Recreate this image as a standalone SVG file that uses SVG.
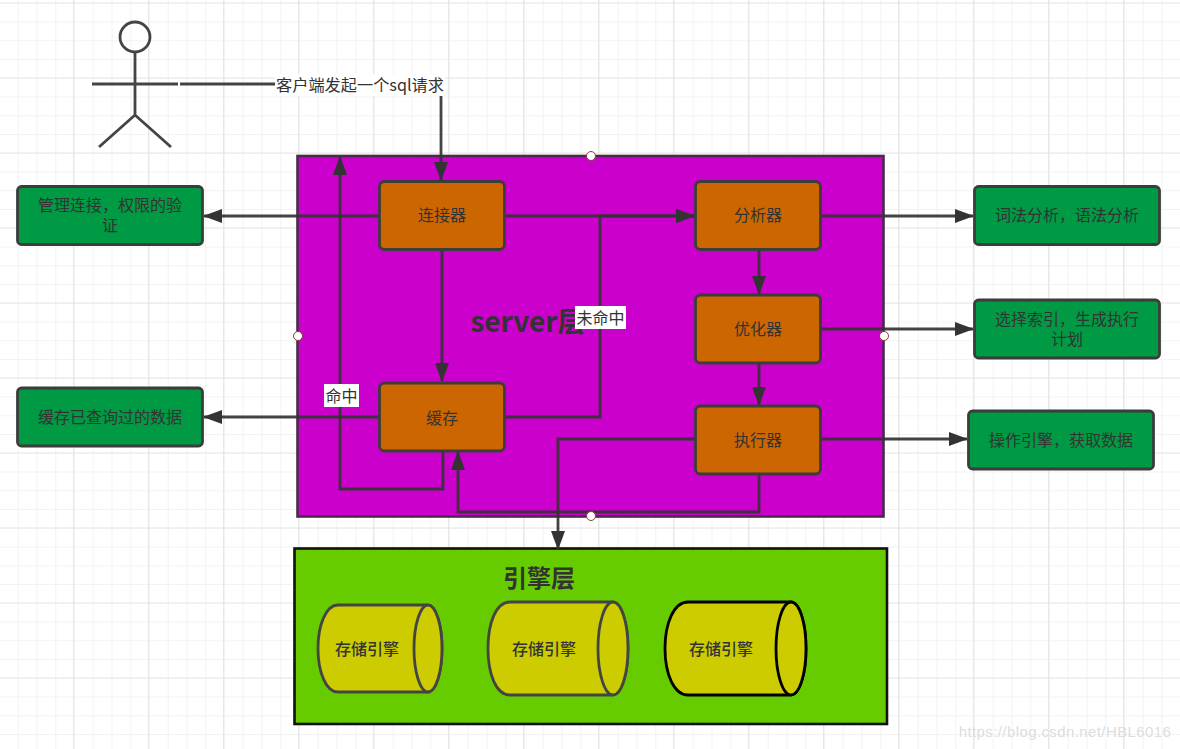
<svg xmlns="http://www.w3.org/2000/svg" width="1180" height="749" viewBox="0 0 1180 749">
<defs>
<pattern id="minor" width="18.75" height="18.75" patternUnits="userSpaceOnUse" x="-1" y="-16">
<path d="M0 0H18.75M0 0V18.75" fill="none" stroke="#f0f0f0" stroke-width="1.6"/>
</pattern>
<pattern id="major" width="75" height="75" patternUnits="userSpaceOnUse" x="-2" y="2.5">
<path d="M0 0H75M0 0V75" fill="none" stroke="#e2e2e2" stroke-width="1.6"/>
</pattern>
<marker id="arr" viewBox="0 0 19 14" refX="18" refY="7" markerWidth="19" markerHeight="14" markerUnits="userSpaceOnUse" orient="auto">
<path d="M0 0L19 7L0 14Z" fill="#333"/>
</marker>
</defs>
<style>
text{font-family:"Noto Sans CJK SC","Liberation Sans",sans-serif;fill:#333;text-anchor:middle}
.ln{fill:none;stroke:#333;stroke-width:2.800;stroke-opacity:.92}
.arr{marker-end:url(#arr)}
.box{fill:#c60;stroke:#3c3c3c;stroke-width:2.800}
.note{fill:#094;stroke:#3c3c3c;stroke-width:2.800}
.t{font-size:16px}
.lbl{fill:#fff}
.cyl{fill:#cc0;stroke:#444;stroke-width:2.800}
.cb{stroke:#000}
.dot{fill:#fff;stroke:#8a3a3a;stroke-width:1}
</style>
<rect width="1180" height="749" fill="#fff"/>
<rect width="1180" height="749" fill="url(#minor)"/>
<rect width="1180" height="749" fill="url(#major)"/>

<g id="actor" fill="none" stroke="#444" stroke-width="2.800">
<circle cx="135" cy="37" r="15"/>
<path d="M135 52V115M92 84H178M135 115L99 147M135 115L171 147"/>
</g>

<g id="server-layer">
<rect x="297.500" y="156" width="586" height="360.500" fill="#c0c" stroke="#4a2a4a" stroke-width="2.600"/>
<text x="528" y="332" font-size="28" font-weight="700">server层</text>
</g>

<g id="engine-layer">
<rect x="294.500" y="548.500" width="592.500" height="175.500" fill="#6c0" stroke="#111" stroke-width="2.600"/>
<text x="539" y="587" font-size="24" font-weight="700">引擎层</text>
</g>

<g id="connectors">
<path class="ln" d="M180 84H441"/>
<path class="ln arr" d="M441 95V180"/>
<path class="ln arr" d="M379 216H204"/>
<path class="ln arr" d="M505 216H694"/>
<path class="ln arr" d="M442 250V381"/>
<path class="ln arr" d="M379 417H204"/>
<path class="ln arr" d="M505 417H600V216H694"/>
<path class="ln arr" d="M443 452V489H340V157"/>
<path class="ln arr" d="M759 474V512H458V452"/>
<path class="ln arr" d="M695 439H558V549"/>
<path class="ln arr" d="M759 250V294"/>
<path class="ln arr" d="M759 363V405"/>
<path class="ln arr" d="M821 216H973"/>
<path class="ln arr" d="M821 329H973"/>
<path class="ln arr" d="M821 439H967"/>
</g>

<g id="label-request">
<rect x="275" y="74" width="170" height="22" class="lbl"/>
<text x="360" y="91" font-size="16.200">客户端发起一个sql请求</text>
</g>
<g id="label-miss">
<rect x="575" y="306" width="51" height="23" class="lbl"/>
<text x="600.500" y="324" font-size="16">未命中</text>
</g>
<g id="label-hit">
<rect x="324" y="384" width="35" height="23" class="lbl"/>
<text x="341.500" y="402" font-size="16">命中</text>
</g>

<g id="connector-node"><rect class="box" x="379.500" y="181.500" width="125" height="68" rx="5"/><text class="t" x="442" y="221">连接器</text></g>
<g id="analyzer-node"><rect class="box" x="695.500" y="181.500" width="125" height="68" rx="5"/><text class="t" x="758" y="221">分析器</text></g>
<g id="optimizer-node"><rect class="box" x="695.500" y="295" width="125" height="68" rx="5"/><text class="t" x="758" y="335">优化器</text></g>
<g id="executor-node"><rect class="box" x="695.500" y="406" width="125" height="68" rx="5"/><text class="t" x="758" y="446">执行器</text></g>
<g id="cache-node"><rect class="box" x="379.500" y="383" width="125" height="68" rx="5"/><text class="t" x="442" y="424">缓存</text></g>

<g id="note-connect"><rect class="note" x="17.500" y="186.500" width="185" height="58" rx="4"/><text class="t" x="110" y="211">管理连接，权限的验</text><text class="t" x="110" y="231">证</text></g>
<g id="note-cache"><rect class="note" x="17.500" y="388" width="185" height="58" rx="4"/><text class="t" x="110" y="423">缓存已查询过的数据</text></g>
<g id="note-analyze"><rect class="note" x="974.500" y="186.500" width="185" height="58" rx="4"/><text class="t" x="1067" y="221">词法分析，语法分析</text></g>
<g id="note-optimize"><rect class="note" x="974.500" y="300" width="185" height="58" rx="4"/><text class="t" x="1067" y="325">选择索引，生成执行</text><text class="t" x="1067" y="345">计划</text></g>
<g id="note-execute"><rect class="note" x="968.500" y="411" width="185" height="58" rx="4"/><text class="t" x="1061" y="446">操作引擎，获取数据</text></g>

<g id="cylinder-1">
<path class="cyl" d="M338 605H427C436 605 442 625 442 648.500S436 692 427 692H338C326 692 318 672 318 648.500S326 605 338 605Z"/>
<ellipse class="cyl" cx="428" cy="648.500" rx="14" ry="43.500"/>
<text class="t" x="367" y="655" font-weight="500">存储引擎</text>
</g>
<g id="cylinder-2">
<path class="cyl" d="M510 602H612C622 602 628 624 628 648.500S622 695 612 695H510C496 695 488 674 488 648.500S496 602 510 602Z"/>
<ellipse class="cyl" cx="613" cy="648.500" rx="15" ry="46.500"/>
<text class="t" x="544" y="655" font-weight="500">存储引擎</text>
</g>
<g id="cylinder-3">
<path class="cyl cb" d="M688 602H790C800 602 806 624 806 648.500S800 695 790 695H688C674 695 665 674 665 648.500S674 602 688 602Z"/>
<ellipse class="cyl cb" cx="791" cy="648.500" rx="15" ry="46.500"/>
<text class="t" x="721" y="655" font-weight="500">存储引擎</text>
</g>

<g id="handles">
<circle class="dot" cx="591" cy="156" r="4.500"/>
<circle class="dot" cx="298" cy="336" r="4.500"/>
<circle class="dot" cx="884" cy="336" r="4.500"/>
<circle class="dot" cx="591" cy="516" r="4.500"/>
</g>
<text x="1065" y="737" font-size="15" style="font-family:'Liberation Sans',sans-serif;fill:#ddd;letter-spacing:.4px">https://blog.csdn.net/HBL6016</text>
</svg>
